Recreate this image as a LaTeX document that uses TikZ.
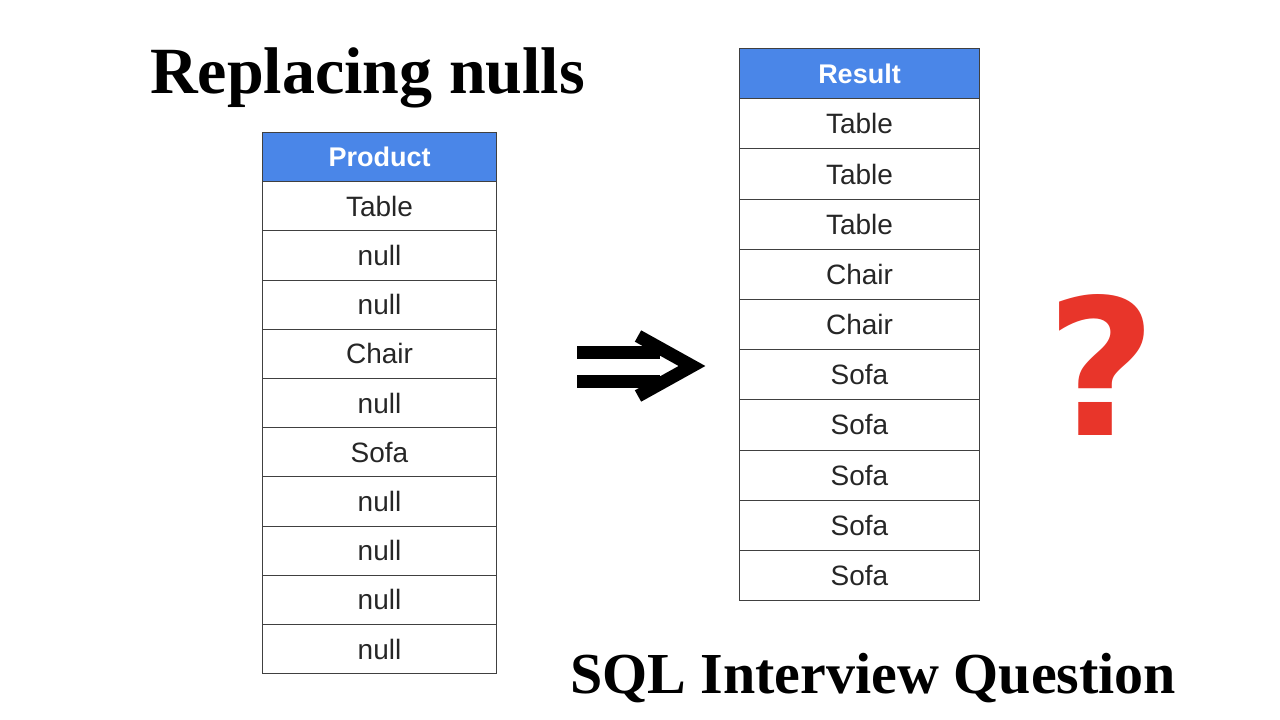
\documentclass[tikz,border=0pt]{standalone}
\usepackage{fontspec}
\setmainfont{Liberation Sans}
\newfontfamily\titlefont{Liberation Serif}
\newfontfamily\qfont{DejaVu Sans}
\definecolor{hdr}{HTML}{4A86E8}
\definecolor{qred}{HTML}{E8352A}
\tikzset{
  cell/.style={draw=black!75, line width=1pt, minimum width=#1, inner sep=0pt, anchor=north west, font=\fontsize{28}{30}\selectfont, text=black!85},
  hcell/.style={cell=#1, fill=hdr, text=white, font=\fontsize{27}{30}\selectfont\bfseries},
}
\begin{document}
\begin{tikzpicture}[x=1pt,y=-1pt]
\useasboundingbox (0,0) rectangle (1280,720);
\node[anchor=base west, inner sep=0pt, font=\titlefont\bfseries\fontsize{66}{70}\selectfont] (title) at (150,93) {Replacing nulls};
\node[anchor=base west, inner sep=0pt, font=\titlefont\bfseries\fontsize{58}{62}\selectfont] (sub) at (570,693) {SQL Interview Question};
% left table
\def\lh{49.2}
\node[hcell=234pt, minimum height=\lh pt] (l0) at (262,132) {Product};
\foreach \t [count=\i] in {Table,null,null,Chair,null,Sofa,null,null,null,null}{
  \node[cell=234pt, minimum height=\lh pt] (l\i) at (262,132+\i*\lh) {\t};
}
% right table
\def\rh{50.2}
\node[hcell=240pt, minimum height=\rh pt] (r0) at (739,48) {Result};
\foreach \t [count=\i] in {Table,Table,Table,Chair,Chair,Sofa,Sofa,Sofa,Sofa,Sofa}{
  \node[cell=240pt, minimum height=\rh pt] (r\i) at (739,48+\i*\rh) {\t};
}
% arrow
\coordinate (a1) at (577,352);
\coordinate (a2) at (660,352);
\coordinate (b1) at (577,381);
\coordinate (b2) at (660,381);
\draw[line width=13pt] (a1) -- (a2);
\draw[line width=13pt] (b1) -- (b2);
\coordinate (t1) at (638,336);
\coordinate (t2) at (692,366);
\coordinate (t3) at (638,396);
\draw[line width=13pt, line join=miter] (t1) -- (t2) -- (t3);
% question mark
\node[font=\qfont\bfseries\fontsize{190}{190}\selectfont, text=qred, inner sep=0pt] (q) at (1102,365) {?};
\end{tikzpicture}
\end{document}
